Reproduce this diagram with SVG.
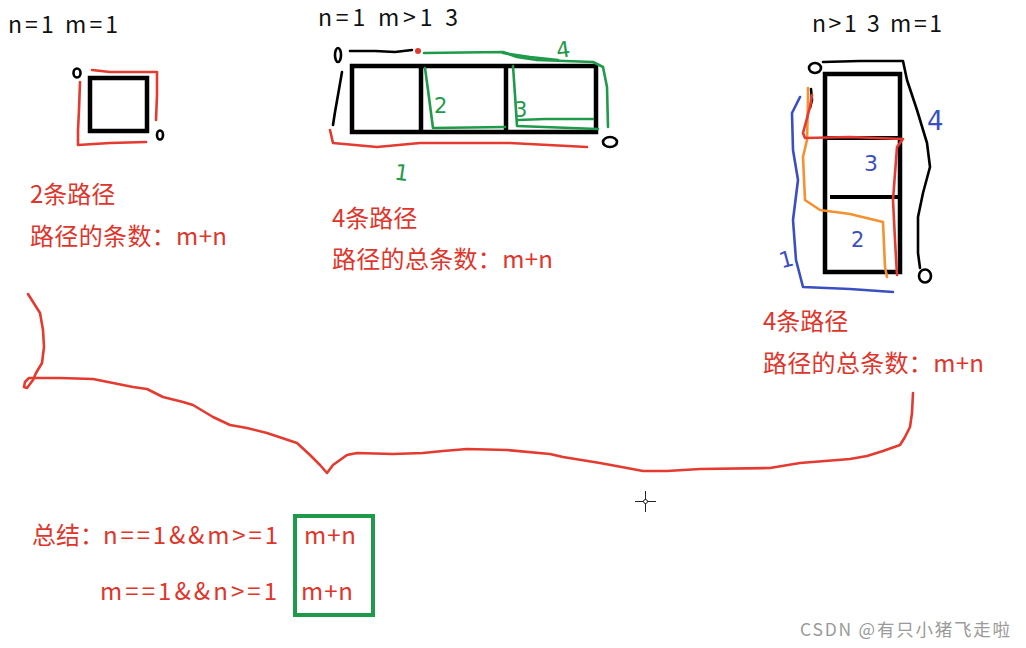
<svg xmlns="http://www.w3.org/2000/svg" width="1026" height="648" viewBox="0 0 1026 648">
<style>
.t{font-family:"Noto Sans CJK SC","Liberation Sans",sans-serif;}
.blk{fill:#111;font-size:23px}
.red{fill:#e0352b;font-size:24px}
.box{fill:none;stroke:#000;stroke-width:4.5}
.ln{fill:none;stroke-linecap:round;stroke-linejoin:round;stroke-width:2.6}
.k{stroke:#000}
.r{stroke:#e53a2f}
.g{stroke:#1f9a4a}
.b{stroke:#3a4fc2}
.o{stroke:#f7902f}
.hw{font-family:"DejaVu Sans","Liberation Sans",sans-serif}
</style>
<rect width="1026" height="648" fill="#fff"/>

<g id="case1">
<text class="t blk" x="8" y="33" textLength="110">n=1  m=1</text>
<rect class="box" x="90" y="78" width="57" height="53"/>
<path class="ln r" d="M92,70 L110,72 L157,72 L157,95 L156,120"/>
<path class="ln r" d="M80,82 L79,110 L78,130 L78,145 L110,143 L146,142"/>
<ellipse class="ln k" cx="77" cy="73" rx="3.5" ry="4.5" stroke-width="3"/>
<ellipse class="ln k" cx="160" cy="135" rx="3" ry="4.5" stroke-width="3"/>
<text class="t red" x="30" y="203">2条路径</text>
<text class="t red" x="30" y="245" textLength="197">路径的条数：m+n</text>
</g>

<g id="case2">
<text class="t blk" x="318" y="26" textLength="140">n=1  m&gt;1  3</text>
<rect class="box" x="352" y="66" width="244" height="66"/>
<line class="k" x1="421" y1="66" x2="421" y2="134" stroke-width="4.5"/>
<line class="k" x1="506" y1="66" x2="506" y2="132" stroke-width="4.5"/>
<ellipse class="ln k" cx="338" cy="55" rx="3" ry="7" stroke-width="3"/>
<path class="ln k" d="M350,51 L375,51 L395,52 L412,50"/>
<circle cx="418" cy="51" r="3" fill="#e53a2f"/>
<path class="ln k" d="M342,72 L338,95 L335,112 L333,125"/>
<path class="ln r" d="M330,130 L333,143 L377,147 L420,143 L510,143 L587,147"/>
<ellipse class="ln k" cx="610" cy="142" rx="7" ry="5" stroke-width="3"/>
<path class="ln g" d="M424,53 L503,52 L517,57 L537,60 L593,62 L603,67 L607,87 L608,127"/>
<path class="ln g" d="M503,53 L530,57 L558,60"/>
<path class="ln g" d="M425,68 L428,90 L433,128 L505,127"/>
<path class="ln g" d="M513,66 L515,95 L517,126 L598,129"/>
<path class="ln g" d="M518,120 L545,119 L593,119"/>
<text class="hw" x="556" y="57" font-size="22" fill="#1f9a4a" transform="rotate(-8 566 48)">4</text>
<text class="hw" x="434" y="113" font-size="21" fill="#1f9a4a">2</text>
<text class="hw" x="514" y="117" font-size="21" fill="#1f9a4a">3</text>
<text class="hw" x="395" y="180" font-size="22" fill="#1f9a4a" transform="rotate(8 400 170)">1</text>
<text class="t red" x="332" y="227">4条路径</text>
<text class="t red" x="332" y="268" textLength="221">路径的总条数：m+n</text>
</g>

<g id="case3">
<text class="t blk" x="812" y="32" textLength="130">n&gt;1  3 m=1</text>
<rect class="box" x="825" y="74" width="75" height="198"/>
<line class="k" x1="825" y1="138" x2="900" y2="138" stroke-width="4"/>
<line class="k" x1="830" y1="197" x2="900" y2="197" stroke-width="4"/>
<ellipse class="ln k" cx="815" cy="68" rx="6" ry="5" stroke-width="3"/>
<path class="ln k" d="M823,62 L860,61 L903,61 L907,80 L917,110 L927,143 L930,167 L923,193 L918,217 L918,253 L920,268"/>
<ellipse class="ln k" cx="925" cy="276" rx="6" ry="6.5" stroke-width="3"/>
<path class="ln k" d="M811,89 L812,100 L810,108"/>
<path class="ln b" d="M800,97 L792,113 L793,150 L798,180 L793,220 L796,260 L803,287 L850,289 L893,292"/>
<path class="ln o" d="M808,88 L808,100 L807,140 L803,157 L805,200 L820,210 L850,214 L883,222 L885,267 L887,277"/>
<path class="ln r" d="M812,95 L810,107 L803,133 L805,138 L850,137 L903,139 L897,147 L893,200 L895,240 L897,275"/>
<text class="hw" x="927" y="130" font-size="26" fill="#3a4fc2">4</text>
<text class="hw" x="864" y="171" font-size="22" fill="#3a4fc2">3</text>
<text class="hw" x="851" y="247" font-size="21" fill="#3a4fc2">2</text>
<text class="hw" x="779" y="267" font-size="22" fill="#3a4fc2" transform="rotate(-15 786 258)">1</text>
<text class="t red" x="763" y="330">4条路径</text>
<text class="t red" x="763" y="372" textLength="221">路径的总条数：m+n</text>
</g>

<g id="brace">
<path class="ln r" stroke-width="3" d="M28,294 L40,313 L43,330 L44,347 L42,363 L36,373 L33,380 L27,388 L24,387 L25,382 L29,378 L60,378 L93,379 L103,381 L133,387 L147,389 L163,397 L183,402 L193,405 L213,417 L230,425 L247,428 L267,433 L297,443 L310,455 L320,465 L327,473 L333,465 L347,455 L357,453 L393,454 L423,453 L443,451 L467,449 L507,450 L550,454 L563,457 L600,463 L627,468 L643,471 L667,471 L700,469 L770,468 L800,463 L850,459 L867,456 L883,451 L900,445 L905,437 L910,427 L912,413 L913,393"/>
</g>

<g id="cursor" stroke="#222" stroke-width="1" fill="none">
<line x1="635" y1="501.5" x2="656" y2="501.5"/>
<line x1="645.5" y1="491" x2="645.5" y2="512"/>
<circle cx="645.5" cy="501.5" r="2" fill="#fff"/>
</g>

<g id="summary">
<text class="t red" x="32" y="544">总结：</text>
<text class="t red" x="103" y="544" textLength="175">n==1&amp;&amp;m&gt;=1</text>
<text class="t red" x="100" y="600" textLength="177">m==1&amp;&amp;n&gt;=1</text>
<rect x="295" y="516" width="78" height="99" fill="none" stroke="#1f9a4a" stroke-width="4"/>
<text class="t red" x="304" y="544" textLength="52">m+n</text>
<text class="t red" x="301" y="600" textLength="52">m+n</text>
</g>

<text class="t" x="800" y="636" font-size="17.5" fill="#9a9a9a" textLength="210">CSDN @有只小猪飞走啦</text>
</svg>
